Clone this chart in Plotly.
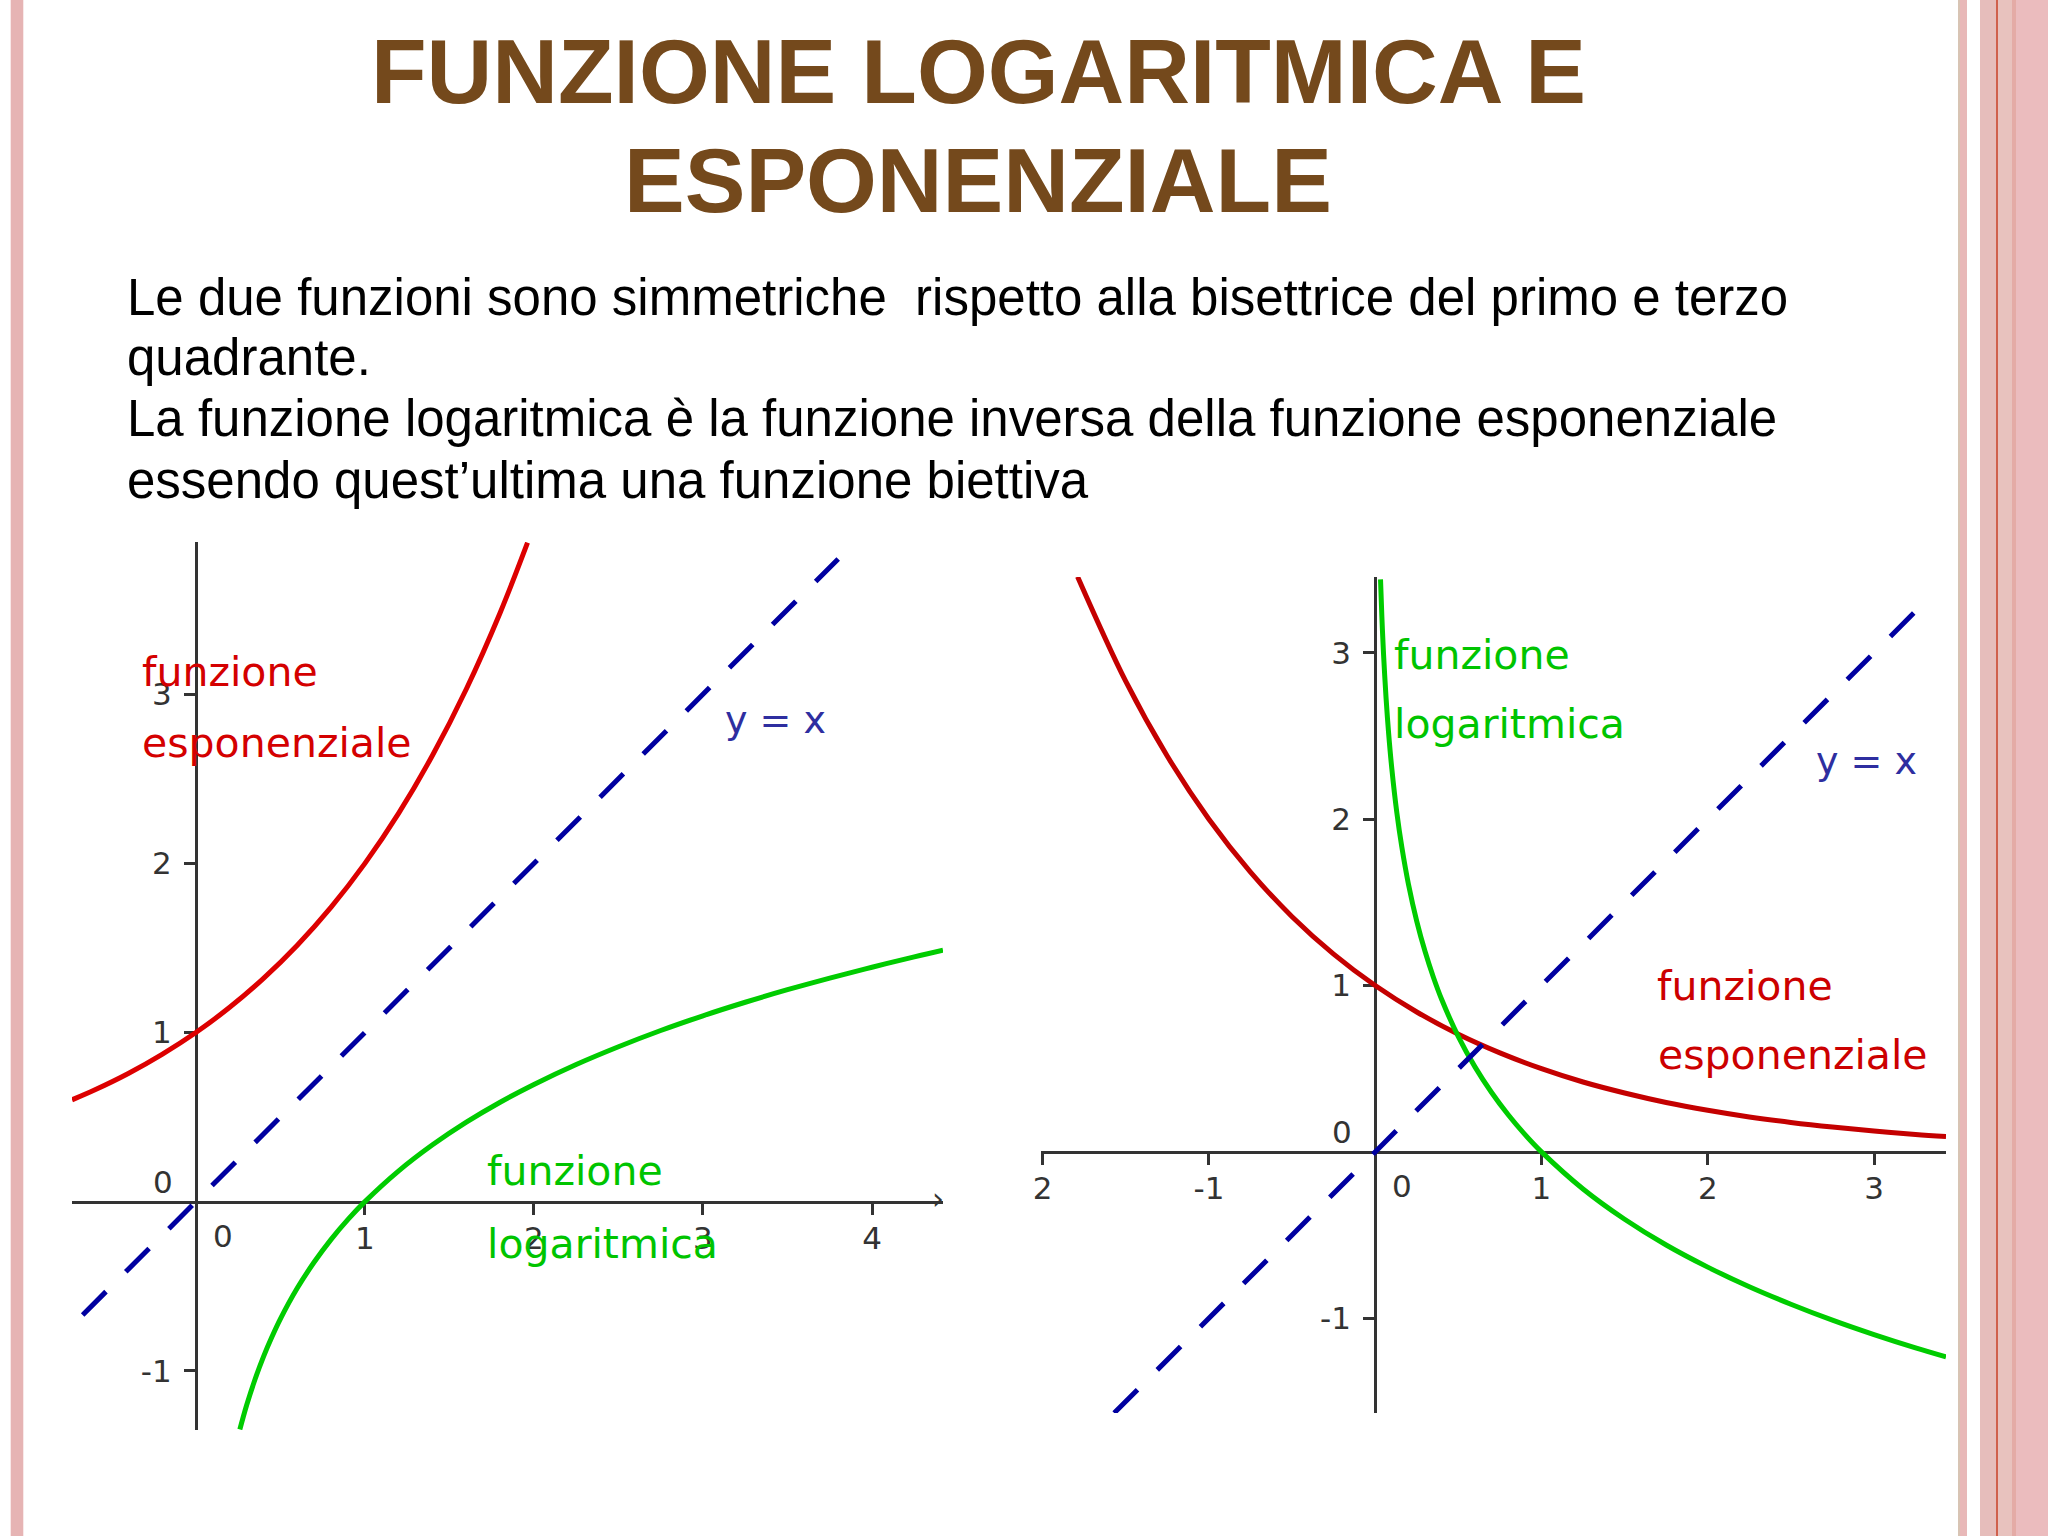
import plotly.graph_objects as go

W, H = 2048, 1536

# --- slide text ---
title_lines = ["FUNZIONE LOGARITMICA E", "ESPONENZIALE"]
body_lines = [
    "Le due funzioni sono simmetriche  rispetto alla bisettrice del primo e terzo",
    "quadrante.",
    "La funzione logaritmica è la funzione inversa della funzione esponenziale",
    "essendo quest\u2019ultima una funzione biettiva",
]

# --- left graph (base > 1) ---
l_exp_x = [-0.733, -0.6, -0.4, -0.2, 0.0, 0.2, 0.4, 0.6, 0.8, 1.0, 1.2, 1.4, 1.6, 1.8, 1.962]
l_exp_y = [0.602, 0.660, 0.758, 0.871, 1.000, 1.149, 1.320, 1.516, 1.741, 2.000, 2.297, 2.639, 3.031, 3.482, 3.896]

l_log_x = [0.26, 0.3, 0.35, 0.4, 0.45, 0.5, 0.6, 0.7, 0.8, 0.9, 1.0, 1.2, 1.4, 1.6, 1.8, 2.0,
           2.25, 2.5, 2.75, 3.0, 3.25, 3.5, 3.75, 4.0, 4.25, 4.42]
l_log_y = [-1.347, -1.204, -1.050, -0.916, -0.799, -0.693, -0.511, -0.357, -0.223, -0.105, 0.000, 0.182, 0.336,
           0.470, 0.588, 0.693, 0.811, 0.916, 1.012, 1.099, 1.179, 1.253, 1.322, 1.386, 1.447, 1.486]

l_bis_x = [-0.67, 3.80]
l_bis_y = [-0.67, 3.80]

l_xticks = [1, 2, 3, 4]
l_xtext = ["1", "2", "3", "4"]
l_yticks = [-1, 1, 2, 3]
l_ytext = ["-1", "1", "2", "3"]

# --- right graph (base < 1) ---
r_exp_x = [-1.79, -1.5, -1.25, -1.0, -0.75, -0.5, -0.25, 0.0, 0.25, 0.5, 0.75, 1.0, 1.25, 1.5, 1.75,
           2.0, 2.25, 2.5, 2.75, 3.0, 3.25, 3.433]
r_exp_y = [3.458, 2.828, 2.378, 2.000, 1.682, 1.414, 1.189, 1.000, 0.841, 0.707, 0.595, 0.500, 0.420, 0.354, 0.297,
           0.250, 0.210, 0.177, 0.149, 0.125, 0.105, 0.093]

r_log_x = [0.032, 0.04, 0.05, 0.065, 0.08, 0.1, 0.13, 0.16, 0.2, 0.25, 0.3, 0.35, 0.4, 0.5, 0.6, 0.7, 0.8, 0.9,
           1.0, 1.25, 1.5, 1.75, 2.0, 2.25, 2.5, 2.75, 3.0, 3.25, 3.433]
r_log_y = [3.442, 3.219, 2.996, 2.733, 2.526, 2.303, 2.040, 1.833, 1.609, 1.386, 1.204, 1.050, 0.916, 0.693, 0.511,
           0.357, 0.223, 0.105, 0.000, -0.223, -0.405, -0.560, -0.693, -0.811, -0.916, -1.012, -1.099, -1.179, -1.233]

r_bis_x = [-1.57, 3.35]
r_bis_y = [-1.57, 3.35]

r_xticks = [-2, -1, 1, 2, 3]
r_xtext = ["2", "-1", "1", "2", "3"]
r_yticks = [-1, 1, 2, 3]
r_ytext = ["-1", "1", "2", "3"]

RED_L = "#DD0000"
RED_R = "#C40000"
GREEN = "#00CC00"
BLUE = "#0000A0"
BLUE_TXT = "#2E2EA0"
AXIS = "#333333"

fig = go.Figure()


def px_x(p):
    return p / W


def px_y(p):
    return 1 - p / H


def zero_pos(dom, rng):
    return dom[0] + (0 - rng[0]) / (rng[1] - rng[0]) * (dom[1] - dom[0])


l_xdom, l_ydom = [px_x(72), px_x(943)], [px_y(1430), px_y(542)]
l_xr, l_yr = [-0.733, 4.42], [-1.35, 3.90]
r_xdom, r_ydom = [px_x(1041), px_x(1946)], [px_y(1413), px_y(577)]
r_xr, r_yr = [-2.01, 3.433], [-1.57, 3.456]

curve = dict(width=5, shape="spline", smoothing=1.0)

# curves
fig.add_trace(go.Scatter(x=l_exp_x, y=l_exp_y, mode="lines", line=dict(color=RED_L, **curve),
                         xaxis="x", yaxis="y"))
fig.add_trace(go.Scatter(x=l_log_x, y=l_log_y, mode="lines", line=dict(color=GREEN, **curve),
                         xaxis="x", yaxis="y"))
fig.add_trace(go.Scatter(x=l_bis_x, y=l_bis_y, mode="lines", line=dict(color=BLUE, width=5, dash="33px,28px"),
                         xaxis="x", yaxis="y"))
fig.add_trace(go.Scatter(x=r_exp_x, y=r_exp_y, mode="lines", line=dict(color=RED_R, **curve),
                         xaxis="x2", yaxis="y2"))
fig.add_trace(go.Scatter(x=r_log_x, y=r_log_y, mode="lines", line=dict(color=GREEN, **curve),
                         xaxis="x2", yaxis="y2"))
fig.add_trace(go.Scatter(x=r_bis_x, y=r_bis_y, mode="lines", line=dict(color=BLUE, width=5, dash="33px,28px"),
                         xaxis="x2", yaxis="y2"))

tickfont = dict(family="DejaVu Sans", size=31, color="#333333")
axis_style = dict(showgrid=False, zeroline=False, showline=True, linecolor=AXIS, linewidth=3,
                  ticks="outside", ticklen=11, tickwidth=3, tickcolor=AXIS, tickfont=tickfont,
                  tickmode="array", layer="below traces", fixedrange=True, automargin=False)

fig.update_layout(
    xaxis=dict(domain=l_xdom, range=l_xr, anchor="free", position=zero_pos(l_ydom, l_yr),
               tickvals=l_xticks, ticktext=l_xtext, ticklabelstandoff=-3, **axis_style),
    yaxis=dict(domain=l_ydom, range=l_yr, anchor="free", position=zero_pos(l_xdom, l_xr),
               tickvals=l_yticks, ticktext=l_ytext, ticklabelstandoff=6, **axis_style),
    xaxis2=dict(domain=r_xdom, range=r_xr, anchor="free", position=zero_pos(r_ydom, r_yr),
                tickvals=r_xticks, ticktext=r_xtext, ticklabelstandoff=-3, **axis_style),
    yaxis2=dict(domain=r_ydom, range=r_yr, anchor="free", position=zero_pos(r_xdom, r_xr),
                tickvals=r_yticks, ticktext=r_ytext, ticklabelstandoff=6, **axis_style),
)

annotations = []

# title and body text
for txt, yc in zip(title_lines, [71, 180]):
    annotations.append(dict(text="<b>%s</b>" % txt, x=px_x(978), y=px_y(yc), xref="paper", yref="paper",
                            xanchor="center", yanchor="middle", showarrow=False,
                            font=dict(family="Liberation Sans", size=91, color="#74491C")))
for txt, yc in zip(body_lines, [297, 358, 419, 480]):
    annotations.append(dict(text=txt, x=px_x(125), y=px_y(yc), xref="paper", yref="paper",
                            xanchor="left", yanchor="middle", showarrow=False,
                            font=dict(family="Liberation Sans", size=51, color="black")))

# graph labels
left_labels = [("funzione", -0.33, 3.13, "#D40000", 41), ("esponenziale", -0.33, 2.71, "#D40000", 41),
               ("y = x", 3.12, 2.85, BLUE_TXT, 38),
               ("funzione", 1.71, 0.18, "#00C400", 41), ("logaritmica", 1.71, -0.25, "#00C400", 41)]
right_labels = [("funzione", 0.10, 2.99, "#00C400", 41), ("logaritmica", 0.10, 2.57, "#00C400", 41),
                ("y = x", 2.64, 2.35, BLUE_TXT, 38),
                ("funzione", 1.68, 1.00, "#CC0000", 41), ("esponenziale", 1.69, 0.58, "#CC0000", 41)]
for labels, xr, yr in [(left_labels, "x", "y"), (right_labels, "x2", "y2")]:
    for txt, x, y, col, sz in labels:
        annotations.append(dict(text=txt, x=x, y=y, xref=xr, yref=yr, xanchor="left", yanchor="middle",
                                showarrow=False, font=dict(family="DejaVu Sans", size=sz, color=col)))
    # origin labels
    annotations.append(dict(text="0", x=0, y=0, xref=xr, yref=yr, xshift=27, yshift=-34, showarrow=False,
                            font=tickfont))
    annotations.append(dict(text="0", x=0, y=0, xref=xr, yref=yr, xshift=-33, yshift=20, showarrow=False,
                            font=tickfont))

# arrow tip of the left x axis
annotations.append(dict(text="\u203a", x=l_xr[1], y=0, xref="x", yref="y", xanchor="right", yanchor="middle",
                        showarrow=False, xshift=3, yshift=3, font=dict(family="DejaVu Sans", size=30, color=AXIS)))

# slide decoration stripes
stripes = [(10.7, 23.3, "#E6B4B4"), (1958, 1960, "#D8C4B4"), (1960, 1967, "#E8B8B8"),
           (1980, 1996, "#E6BDBB"), (1996, 1998, "#D0604C"), (1998, 2012, "#E8C2BE"),
           (2012, 2016, "#E4ABA6"), (2016, 2048, "#EBBCBE")]
shapes = [dict(type="rect", xref="paper", yref="paper", x0=px_x(a), x1=px_x(b), y0=0, y1=1,
               fillcolor=c, line=dict(width=0), layer="below") for a, b, c in stripes]

fig.update_layout(
    width=W, height=H, margin=dict(l=0, r=0, t=0, b=0, pad=0), autosize=False,
    paper_bgcolor="white", plot_bgcolor="white",
    showlegend=False, annotations=annotations, shapes=shapes,
)

fig.write_html("out.html", config={"displayModeBar": False},
               post_script="document.body.style.margin='0';document.body.style.overflow='hidden';")
